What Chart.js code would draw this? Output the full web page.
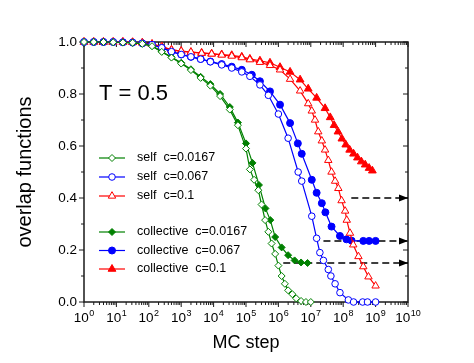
<!DOCTYPE html>
<html><head><meta charset="utf-8">
<script src="https://cdn.jsdelivr.net/npm/chart.js@4/dist/chart.umd.min.js"></script>
<style>html,body{margin:0;padding:0;background:#fff;}canvas{display:block;}</style>
</head><body>
<canvas id="c" width="474" height="363"></canvas>
<script>
// ---------- DATA (x given as log10 of MC step) ----------
const seriesLabels = ['self  c=0.0167','self  c=0.067','self  c=0.1','collective  c=0.0167','collective  c=0.067','collective  c=0.1'];

const selfC0167Exp = [0,0.3,0.6,0.9,1.2,1.5,1.8,2.1,2.4,2.7,3.0,3.3,3.6,3.9,4.2,4.5,4.75,5.0,5.12,5.25,5.38,5.48,5.59,5.69,5.79,5.9,6.0,6.1,6.2,6.3,6.43,6.55,6.7,6.85,7.0];
const selfC0167Q   = [1.0,1.0,1.0,0.999,0.998,0.997,0.993,0.984,0.962,0.94,0.917,0.892,0.862,0.832,0.792,0.74,0.68,0.59,0.51,0.47,0.43,0.375,0.315,0.27,0.225,0.185,0.14,0.10,0.07,0.045,0.03,0.014,0.004,0.0,0.0];

const selfC067Exp = [0,0.3,0.6,0.9,1.2,1.5,1.8,2.1,2.4,2.7,3.0,3.3,3.6,3.9,4.25,4.56,4.87,5.12,5.43,5.69,6.0,6.3,6.61,6.72,7.03,7.18,7.28,7.39,7.54,7.62,7.75,7.9,8.16,8.32,8.6,8.75,9.0];
const selfC067Q   = [1.0,1.0,1.0,1.0,0.999,0.998,0.995,0.99,0.978,0.963,0.952,0.943,0.934,0.924,0.912,0.90,0.885,0.868,0.835,0.795,0.723,0.63,0.50,0.465,0.33,0.245,0.19,0.16,0.125,0.10,0.07,0.036,0.008,0.0,0.0,0.0,0.0];

const selfC1Exp = [0,0.3,0.6,0.9,1.2,1.5,1.8,2.1,2.4,2.7,3.0,3.3,3.63,3.94,4.25,4.56,4.87,5.12,5.43,5.74,6.05,6.36,6.67,6.92,7.03,7.13,7.23,7.34,7.44,7.54,7.64,7.75,7.85,7.95,8.06,8.11,8.21,8.31,8.47,8.62,8.78,9.0];
const selfC1Q   = [1.0,1.0,1.0,1.0,1.0,0.999,0.997,0.992,0.982,0.97,0.965,0.961,0.957,0.954,0.95,0.946,0.94,0.932,0.922,0.91,0.893,0.857,0.812,0.763,0.735,0.70,0.655,0.62,0.585,0.545,0.50,0.465,0.437,0.39,0.35,0.315,0.265,0.22,0.175,0.136,0.097,0.062];

const collC0167Exp = [0,0.3,0.6,0.9,1.2,1.5,1.8,2.1,2.4,2.7,3.0,3.3,3.6,3.9,4.2,4.5,4.75,5.0,5.2,5.4,5.6,5.75,5.9,6.1,6.3,6.5,6.7,6.9];
const collC0167Q   = [1.0,1.0,1.0,0.999,0.998,0.997,0.994,0.985,0.963,0.942,0.92,0.895,0.866,0.838,0.80,0.75,0.69,0.61,0.535,0.45,0.36,0.315,0.25,0.21,0.18,0.16,0.152,0.15];

const collC067Exp = [0,0.3,0.6,0.9,1.2,1.5,1.8,2.1,2.4,2.7,3.0,3.3,3.6,3.9,4.25,4.56,4.87,5.18,5.43,5.74,6.05,6.36,6.6,6.72,7.03,7.18,7.34,7.45,7.64,7.9,8.1,8.26,8.62,8.8,9.0];
const collC067Q   = [1.0,1.0,1.0,1.0,0.999,0.998,0.995,0.99,0.978,0.963,0.952,0.943,0.935,0.925,0.915,0.905,0.893,0.874,0.849,0.81,0.759,0.688,0.61,0.57,0.47,0.42,0.38,0.345,0.29,0.254,0.241,0.236,0.235,0.235,0.235];

const collC1Exp = [0,0.3,0.6,0.9,1.2,1.5,1.8,2.1,2.4,2.7,3.0,3.3,3.63,3.94,4.25,4.56,4.87,5.12,5.43,5.74,6.05,6.36,6.67,6.92,7.18,7.44,7.6,7.72,7.84,7.96,8.08,8.2,8.32,8.44,8.56,8.68,8.8,8.9];
const collC1Q   = [1.0,1.0,1.0,1.0,1.0,0.999,0.997,0.992,0.982,0.97,0.965,0.961,0.958,0.955,0.952,0.949,0.943,0.935,0.928,0.92,0.903,0.885,0.855,0.82,0.785,0.745,0.71,0.68,0.655,0.628,0.605,0.585,0.57,0.555,0.54,0.528,0.515,0.505];

const arrowLevels   = [0.4, 0.235, 0.15];
const arrowStartExp = [8.25, 7.39, 6.15];

const xTickExponents = [0,1,2,3,4,5,6,7,8,9,10];
const yTickValues = [0,0.2,0.4,0.6,0.8,1.0];
const yTickLabels = ['0.0','0.2','0.4','0.6','0.8','1.0'];
const annotationText = 'T = 0.5';

// ---------- STYLE ----------
const FONT = '"Liberation Sans", Arial, sans-serif';
const GREEN = '#008000', BLUE = '#0000ff', RED = '#ff0000';
function pts(ex, q){ return ex.map((e,i)=>({x: Math.pow(10,e), y: q[i]})); }

const seriesDefs = [
  {ex: selfC0167Exp, q: selfC0167Q, color: GREEN, style: 'rectRot', filled: false, r: 3.5},
  {ex: selfC067Exp,  q: selfC067Q,  color: BLUE,  style: 'circle',  filled: false, r: 3.3},
  {ex: selfC1Exp,    q: selfC1Q,    color: RED,   style: 'triangle',filled: false, r: 4.3},
  {ex: collC0167Exp, q: collC0167Q, color: GREEN, style: 'rectRot', filled: true,  r: 3.5},
  {ex: collC067Exp,  q: collC067Q,  color: BLUE,  style: 'circle',  filled: true,  r: 3.5},
  {ex: collC1Exp,    q: collC1Q,    color: RED,   style: 'triangle',filled: true,  r: 4.5}
];

const datasets = seriesDefs.map((s,i)=>({
  label: seriesLabels[i],
  data: pts(s.ex, s.q),
  borderColor: s.color,
  backgroundColor: s.filled ? s.color : '#ffffff',
  pointBorderColor: s.color,
  pointBackgroundColor: s.filled ? s.color : '#ffffff',
  pointStyle: s.style,
  pointRadius: s.r,
  pointBorderWidth: 1,
  borderWidth: 1.2,
  tension: 0,
  clip: false,
  order: 1
}));
arrowLevels.forEach((lv,i)=>{
  datasets.push({
    label: 'arrow'+i,
    data: [{x: Math.pow(10, arrowStartExp[i]), y: lv}, {x: 1e10, y: lv}],
    borderColor: '#000', borderWidth: 1.5, borderDash: [7,4],
    pointRadius: 0, clip: false, order: 5
  });
});

function drawMarker(ctx, style, x, y, r, filled, color){
  ctx.save();
  ctx.beginPath();
  if (style === 'circle') ctx.arc(x, y, r, 0, Math.PI*2);
  else if (style === 'rectRot') { ctx.moveTo(x, y-r); ctx.lineTo(x+r, y); ctx.lineTo(x, y+r); ctx.lineTo(x-r, y); ctx.closePath(); }
  else if (style === 'triangle') {
    for (let k=0;k<3;k++){ const a = k*2*Math.PI/3; const px = x + Math.sin(a)*r, py = y - Math.cos(a)*r; k===0?ctx.moveTo(px,py):ctx.lineTo(px,py); }
    ctx.closePath();
  }
  ctx.fillStyle = filled ? color : '#fff';
  ctx.fill();
  ctx.lineWidth = 1; ctx.strokeStyle = color; ctx.stroke();
  ctx.restore();
}

const framePlugin = {
  id: 'frame',
  beforeDatasetsDraw(chart){
    const {ctx, chartArea: a, scales: {x, y}} = chart;
    ctx.save();
    ctx.strokeStyle = '#1a1a1a';
    ctx.lineWidth = 1;
    // x ticks
    for (let d=0; d<=10; d++){
      const px = x.getPixelForValue(Math.pow(10,d));
      ctx.beginPath(); ctx.moveTo(px, a.bottom); ctx.lineTo(px, a.bottom+5);
      ctx.moveTo(px, a.top); ctx.lineTo(px, a.top+5); ctx.stroke();
      if (d<10) for (let m=2;m<=9;m++){
        const pm = x.getPixelForValue(m*Math.pow(10,d));
        ctx.beginPath(); ctx.moveTo(pm, a.bottom); ctx.lineTo(pm, a.bottom+3);
        ctx.moveTo(pm, a.top); ctx.lineTo(pm, a.top+3); ctx.stroke();
      }
    }
    // y ticks
    for (let k=0;k<=10;k++){
      const v = k/10, py = y.getPixelForValue(v);
      const len = (k%2===0) ? 5 : 3;
      ctx.beginPath(); ctx.moveTo(a.left-len, py); ctx.lineTo(a.left, py);
      ctx.moveTo(a.right-len, py); ctx.lineTo(a.right, py); ctx.stroke();
    }
    // frame
    ctx.lineWidth = 1.5;
    ctx.strokeRect(a.left, a.top, a.right-a.left, a.bottom-a.top);
    // tick labels
    ctx.fillStyle = '#000';
    ctx.textBaseline = 'middle'; ctx.textAlign = 'right';
    ctx.font = '13.5px ' + FONT;
    yTickValues.forEach((v,i)=>{ ctx.fillText(yTickLabels[i], a.left-7, y.getPixelForValue(v)); });
    ctx.textBaseline = 'alphabetic'; ctx.textAlign = 'left';
    xTickExponents.forEach(e=>{
      const px = x.getPixelForValue(Math.pow(10,e));
      ctx.font = '13.5px ' + FONT; const w1 = ctx.measureText('10').width;
      ctx.font = '9px ' + FONT; const w2 = ctx.measureText(String(e)).width;
      const sx = px - (w1+w2+0.5)/2;
      ctx.font = '13.5px ' + FONT; ctx.fillText('10', sx, a.bottom+20);
      ctx.font = '9px ' + FONT; ctx.fillText(String(e), sx+w1+0.5, a.bottom+14);
    });
    ctx.restore();
  },
  afterDatasetsDraw(chart){
    const {ctx, chartArea: a, scales: {x, y}} = chart;
    ctx.save();
    // arrow heads
    ctx.fillStyle = '#000';
    arrowLevels.forEach(lv=>{
      const tip = x.getPixelForValue(1e10), py = y.getPixelForValue(lv);
      ctx.beginPath(); ctx.moveTo(tip-9, py-3.5); ctx.lineTo(tip, py); ctx.lineTo(tip-9, py+3.5); ctx.closePath(); ctx.fill();
    });
    // annotation
    ctx.font = '22px ' + FONT; ctx.textBaseline = 'alphabetic'; ctx.textAlign = 'left';
    ctx.fillText(annotationText, a.left+15, 100);
    // legend
    const rows = [158, 177, 196, 232, 250.5, 269];
    ctx.font = '12.5px ' + FONT; ctx.textBaseline = 'middle';
    seriesDefs.forEach((s,i)=>{
      const ry = rows[i];
      ctx.strokeStyle = s.color; ctx.lineWidth = 1.2;
      ctx.beginPath(); ctx.moveTo(99, ry); ctx.lineTo(125, ry); ctx.stroke();
      drawMarker(ctx, s.style, 112, ry, s.r, s.filled, s.color);
      ctx.fillStyle = '#000';
      ctx.fillText(seriesLabels[i], 137, ry);
    });
    ctx.restore();
  }
};

new Chart(document.getElementById('c'), {
  type: 'line',
  data: { datasets },
  options: {
    responsive: false, animation: false, devicePixelRatio: 1,
    layout: { padding: { top: 42, right: 66, left: 0, bottom: 0 } },
    plugins: { legend: { display: false }, tooltip: { enabled: false } },
    scales: {
      x: {
        type: 'logarithmic', min: 1, max: 1e10, position: 'bottom',
        ticks: { display: false }, grid: { display: false }, border: { display: false },
        title: { display: true, text: 'MC step', color: '#000', font: { family: FONT, size: 18 }, padding: { top: 0, bottom: 9 } },
        afterFit(s){ s.height = 61; }
      },
      y: {
        type: 'linear', min: 0, max: 1, position: 'left',
        ticks: { display: false }, grid: { display: false }, border: { display: false },
        title: { display: true, text: 'overlap functions', color: '#000', font: { family: FONT, size: 20 }, padding: { top: 13, bottom: 0 } },
        afterFit(s){ s.width = 84; }
      }
    }
  },
  plugins: [framePlugin]
});
</script>
</body></html>
